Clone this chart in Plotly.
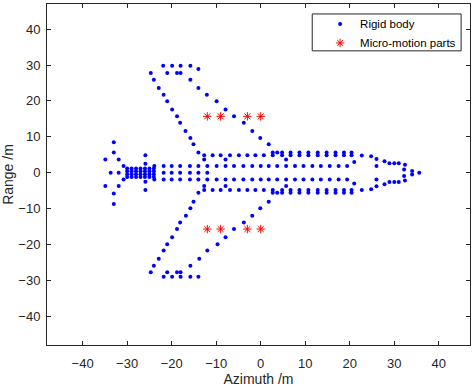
import plotly.graph_objects as go

# ---------------- data (units: m) ----------------
# Fuselage rows: each row is a y value with its x positions
fus_row_y2_x = [-23.9, -21.8, -20.0, -18.1, -15.9, -14.0, -12.0, -9.9, -7.9, -6.0, -3.9, -1.9,
                0.0, 1.8, 3.7, 5.7, 7.7, 9.6, 11.6, 13.5, 15.5, 17.5, 19.4]
fus_row_y2 = [1.9, -1.9]
fus_row_y0_x = [-21.8, -20.0, -18.1, -15.9, -14.0, -12.0]
fus_row_y5_x = [-12.7, -10.8, -9.0, -6.9, -4.9, -3.0, -1.2, 0.7, 2.7, 4.8, 6.7, 8.7,
                10.7, 12.8, 14.8, 16.8, 18.7, 20.4]
fus_row_y5 = [4.85, -4.85]
fus_row_y56_x = [2.7, 4.8, 6.7, 8.7, 10.7, 12.8, 14.8, 16.8, 18.7, 20.4]
fus_row_y56 = [5.6, -5.6]

# Dense scatterer cluster near the tail
cluster_cols_x = [-30.0, -29.0, -28.0, -27.0, -26.0, -25.0, -24.0]
cluster_rows_y = [1.2, 0.4, -0.4, -1.2]

# Isolated fuselage / tail points
misc_x = [-33.0, -33.0, -34.9, -31.9, -33.7, -31.9, -30.8, -30.8, -34.9, -31.9, -33.0, -33.0,
          -25.9, -25.9, -25.9, -25.9, -12.7, -12.7, -7.9, -7.9, 5.7, 5.7, 21.0, 21.0]
misc_y = [8.5, 5.6, 3.7, 3.7, 0.0, 0.0, 1.9, -1.9, -3.7, -3.7, -5.8, -8.7,
          4.85, 2.5, -2.5, -4.85, 3.7, -3.7, 3.7, -3.7, 3.7, -3.7, 3.0, -3.0]

# Nose / cockpit
nose_x = [22.7, 24.8, 26.0, 27.8, 28.9, 30.0, 31.0, 32.4, 32.2, 34.0, 35.6, 34.0, 32.2, 32.4,
          31.0, 30.0, 28.9, 27.8, 26.0, 24.8, 22.7, 26.0, 26.0]
nose_y = [4.8, 4.6, 3.8, 3.2, 2.6, 2.6, 2.6, 2.2, 0.9, 0.5, 0.0, -0.5, -0.9, -2.2,
          -2.6, -2.6, -2.6, -3.2, -3.8, -4.6, -4.8, 1.9, -1.9]

# Upper wing
uwing_x = [-24.0, -22.9, -21.8, -21.0, -19.9, -18.8, -18.1, -16.9, -15.8, -15.1, -14.0,
           -24.7, -21.0, -18.8, -18.0, -21.9, -19.9, -18.0, -15.8, -14.0, -15.8,
           -14.0, -12.1, -9.9, -7.9, -6.0, -3.8, -1.9, -0.1, 1.8, 3.7]
uwing_y = [25.9, 23.6, 21.7, 19.9, 17.6, 15.7, 13.9, 11.6, 9.7, 7.9, 5.6,
           27.8, 27.8, 27.8, 27.8, 29.8, 29.8, 29.8, 29.8, 28.9, 25.9,
           23.6, 21.7, 19.9, 17.6, 15.7, 13.9, 11.6, 9.7, 7.9, 5.6]

# Lower wing
lwing_x = [-24.0, -22.9, -21.8, -21.0, -19.9, -18.8, -18.1, -16.8, -15.8, -15.1, -14.0,
           -24.7, -21.0, -18.8, -18.0, -21.8, -19.9, -18.0, -15.8, -14.0, -15.8,
           -13.8, -12.0, -9.7, -7.9, -6.0, -3.8, -1.9, -0.1, 1.8, 3.7]
lwing_y = [-25.9, -24.0, -21.7, -19.9, -18.0, -15.7, -13.9, -12.0, -9.9, -8.1, -5.6,
           -27.7, -27.7, -27.7, -27.7, -29.0, -29.0, -29.0, -29.0, -29.0, -25.9,
           -24.0, -21.7, -19.9, -18.0, -15.7, -13.9, -12.0, -9.9, -8.1, -5.6]

# Micro-motion parts (red stars)
micro_x = [-12.0, -9.0, -3.0, 0.0, -12.0, -9.0, -3.0, 0.0]
micro_y = [15.7, 15.7, 15.7, 15.7, -15.7, -15.7, -15.7, -15.7]

xtick_vals = [-40, -30, -20, -10, 0, 10, 20, 30, 40]
ytick_vals = [-40, -30, -20, -10, 0, 10, 20, 30, 40]

# ---------------- assemble rigid body ----------------
body_x, body_y = [], []
for yv in fus_row_y2:
    body_x += fus_row_y2_x; body_y += [yv] * len(fus_row_y2_x)
body_x += fus_row_y0_x; body_y += [0.0] * len(fus_row_y0_x)
for yv in fus_row_y5:
    body_x += fus_row_y5_x; body_y += [yv] * len(fus_row_y5_x)
for yv in fus_row_y56:
    body_x += fus_row_y56_x; body_y += [yv] * len(fus_row_y56_x)
for cx in cluster_cols_x:
    for cy in cluster_rows_y:
        body_x.append(cx); body_y.append(cy)
body_x += misc_x; body_y += misc_y
body_x += nose_x; body_y += nose_y
body_x += uwing_x; body_y += uwing_y
body_x += lwing_x; body_y += lwing_y

AX = '#262626'
FONT = 'Liberation Sans, Arial, sans-serif'

fig = go.Figure()
fig.add_trace(go.Scatter(x=body_x, y=body_y, mode='markers', name='Rigid body',
                         marker=dict(color='#0000FF', size=4, line=dict(width=0))))
fig.add_trace(go.Scatter(x=micro_x, y=micro_y, mode='markers', name='Micro-motion parts',
                         marker=dict(symbol='asterisk-open', color='#FF0000', size=7,
                                     line=dict(color='#FF0000', width=1))))

axis_common = dict(showgrid=False, zeroline=False, showline=True, linecolor=AX, linewidth=1,
                   mirror='ticks', ticks='inside', ticklen=4, tickcolor=AX, tickwidth=1,
                   tickfont=dict(family=FONT, size=13, color=AX))

fig.update_layout(
    width=474, height=387,
    margin=dict(l=45, r=3, t=3, b=42),
    plot_bgcolor='white', paper_bgcolor='white',
    font=dict(family=FONT, size=13, color=AX),
    xaxis=dict(range=[-48, 47], tickvals=xtick_vals, ticklabelstandoff=6,
               title=dict(text='Azimuth /m', font=dict(family=FONT, size=14, color=AX), standoff=3),
               **axis_common),
    yaxis=dict(range=[-48, 47], tickvals=ytick_vals, ticklabelstandoff=3,
               title=dict(text='Range /m', font=dict(family=FONT, size=14, color=AX), standoff=6),
               **axis_common),
    legend=dict(x=0.979, y=0.984, xanchor='right', yanchor='top',
                borderwidth=0, bgcolor='rgba(0,0,0,0)',
                font=dict(family=FONT, size=11.5, color='#000000')),
    showlegend=True,
    shapes=[dict(type='rect', xref='paper', yref='paper',
                 x0=0.627, x1=0.979, y0=0.8626, y1=0.9708,
                 line=dict(color=AX, width=1), fillcolor='white', layer='below')],
)

fig.write_html('out.html', config={'displayModeBar': False},
               post_script="document.body.style.margin='0';document.body.style.overflow='hidden';")
